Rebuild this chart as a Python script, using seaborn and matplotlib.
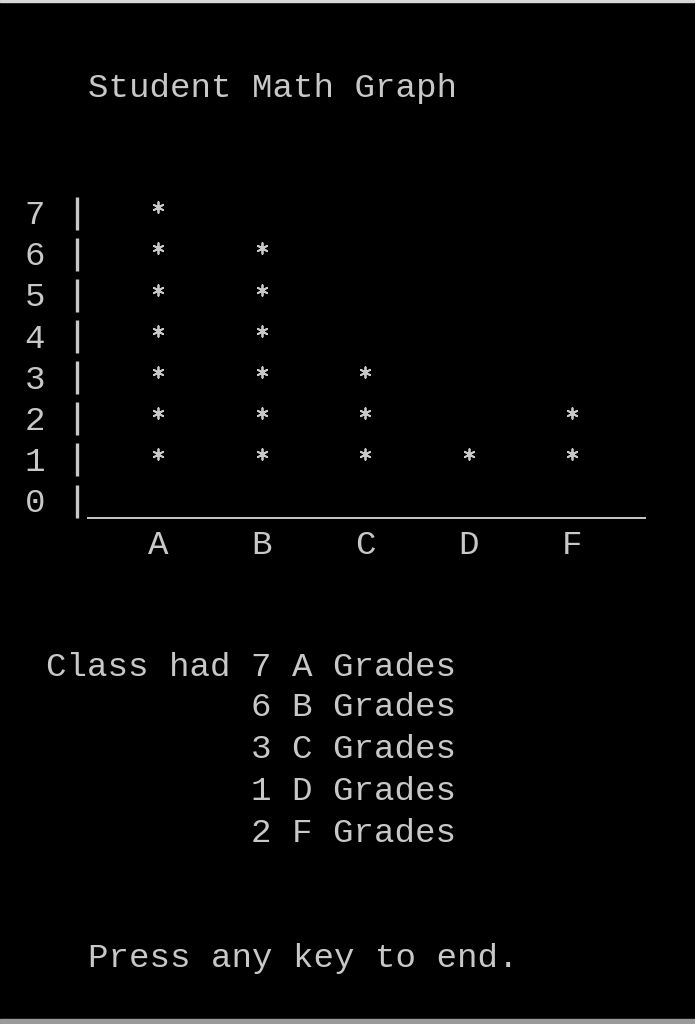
import pandas as pd
import matplotlib.pyplot as plt
import matplotlib.transforms as mtransforms
import seaborn as sns

grades = ["A", "B", "C", "D", "F"]
counts = [7, 6, 3, 1, 2]
y_ticks = [0, 1, 2, 3, 4, 5, 6, 7]
title_text = "Student Math Graph"
footer_text = "Press any key to end."

FG = "#c8c8c8"
BG = "#000000"
MONO = "Liberation Mono"
FS = 24.6

sns.set_style("dark")
plt.rcParams["font.family"] = [MONO, "DejaVu Sans Mono"]

# one row per star: a grade with n students gets stars at levels 1..n
rows = []
for g, n in zip(grades, counts):
    for level in range(1, n + 1):
        rows.append({"grade": g, "level": level})
stars = pd.DataFrame(rows)
stars["pos"] = stars["grade"].map({g: i for i, g in enumerate(grades)})

W, H = 695, 1024
fig = plt.figure(figsize=(W / 100, H / 100), dpi=100, facecolor=BG)

# axes box in pixels (left, top, right, bottom)
left, top, right, bottom = 77, 190, 645, 518
ax = fig.add_axes([left / W, 1 - bottom / H, (right - left) / W, (bottom - top) / H])
ax.set_facecolor(BG)

sns.scatterplot(data=stars, x="pos", y="level", marker=(6, 2, 0), s=60,
                color=FG, linewidth=1.3, edgecolor=FG, legend=False, ax=ax)

# stars sit a few pixels above the row centre of the labels
xstep = 103.5
ystep = 41.1
y0 = 495
ax.set_xlim((left - 158) / xstep, (right - 158) / xstep)
ax.set_ylim(-(bottom - y0) / ystep, (y0 - top) / ystep)

ax.set_xticks(range(len(grades)))
ax.set_xticklabels(grades)
ax.set_yticks(y_ticks)
ax.set_yticklabels([str(v) for v in y_ticks])
ax.tick_params(axis="both", length=0, colors=FG, labelsize=FS)
ax.tick_params(axis="x", pad=9)
ax.tick_params(axis="y", pad=23)
shift = mtransforms.ScaledTranslation(0, -5 / 100, fig.dpi_scale_trans)
for lbl in ax.get_yticklabels():
    lbl.set_transform(lbl.get_transform() + shift)
ax.set_xlabel("")
ax.set_ylabel("")
ax.grid(False)

for s in ["top", "right", "left"]:
    ax.spines[s].set_visible(False)
ax.spines["bottom"].set_color(FG)
ax.spines["bottom"].set_linewidth(1.4)
ax.spines["bottom"].set_bounds((88 - 158) / xstep, (right - 158) / xstep)

# the y axis is a column of "|" characters, one per row
half = 16.5 / ystep
off = 6 / ystep
ax.vlines([ax.get_xlim()[0] + 0.003] * len(y_ticks),
          [v - off - half for v in y_ticks],
          [v - off + half for v in y_ticks],
          color=FG, linewidth=2.4, capstyle="butt", clip_on=False)


def put(text, x, y):
    fig.text(x / W, 1 - y / H, text, color=FG, fontsize=FS,
             ha="left", va="center", family=[MONO, "DejaVu Sans Mono"])


put(title_text, 88, 88)

summary_y = [667, 708, 750, 791, 833]
for i, (g, n) in enumerate(zip(grades, counts)):
    prefix = "Class had " if i == 0 else " " * 10
    put(f"{prefix}{n} {g} Grades", 46, summary_y[i])

put(footer_text, 88, 958)

# window frame: thin light line on top, grey strip at the bottom
fig.patches.append(plt.Rectangle((0, 1 - 2 / H), 1, 2 / H, transform=fig.transFigure,
                                 color="#d8d8d8", zorder=5))
fig.patches.append(plt.Rectangle((0, 0), 1, 5 / H, transform=fig.transFigure,
                                 color="#9a9a9a", zorder=5))

fig.savefig("out.png", dpi=100, facecolor=BG)
